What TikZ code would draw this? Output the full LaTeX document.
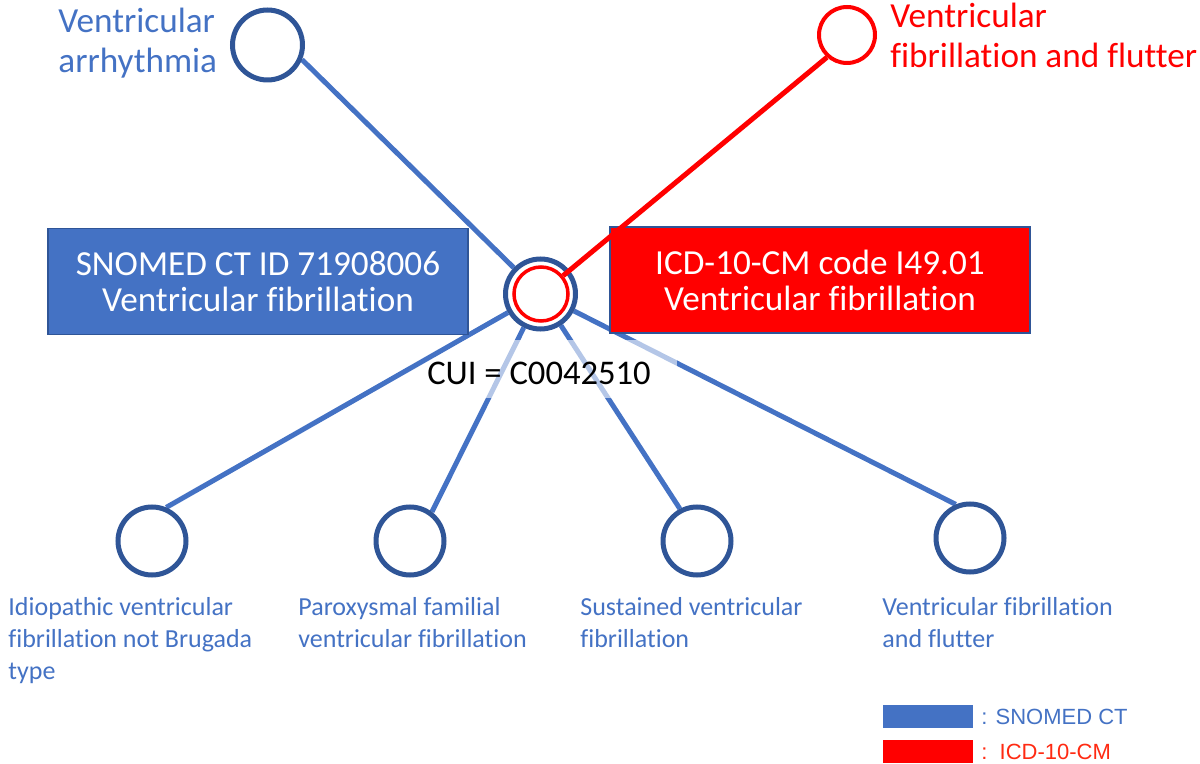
\documentclass[tikz,border=0pt]{standalone}
\usepackage{fontspec}
\setmainfont{Carlito}[Ligatures=NoCommon]
\newfontfamily\arialf{Liberation Sans}
\definecolor{sblue}{HTML}{4472C4}
\definecolor{dblue}{HTML}{2F5597}
\definecolor{ired}{HTML}{FF0000}
\definecolor{lred}{HTML}{FF2A12}
\pgfdeclarelayer{bg}
\pgfsetlayers{bg,main}
\tikzset{
  ring/.style={circle, draw=dblue, line width=2.5pt, fill=white, minimum size=35pt, inner sep=0pt},
  leafring/.style={ring, minimum size=34pt},
  redring/.style={circle, draw=ired, line width=2pt, fill=white, minimum size=28pt, inner sep=0pt},
  sline/.style={draw=sblue, line width=2.5pt},
  rline/.style={draw=ired, line width=2.5pt},
  codebox/.style={draw=dblue, line width=0.75pt, minimum width=210pt, minimum height=53pt, text=white, align=center, font=\fontsize{17.6}{18}\selectfont, inner sep=0pt},
  toplabel/.style={anchor=north west, inner sep=0pt, align=left, font=\fontsize{17.6}{20}\selectfont},
  leaf/.style={anchor=north west, inner sep=0pt, align=left, text=sblue, font=\fontsize{13}{16}\selectfont},
  legbox/.style={minimum width=45pt, minimum height=11.5pt, inner sep=0pt},
  legtext/.style={anchor=west, inner sep=0pt, font=\arialf\fontsize{11}{13}\selectfont}
}
\begin{document}
\begin{tikzpicture}[x=0.5pt,y=-0.5pt]
\useasboundingbox (0,0) rectangle (1200,764);

% boxes
\node[codebox, fill=sblue] (snomed) at (258,281.5) {SNOMED CT ID 71908006\\Ventricular fibrillation};
\node[codebox, fill=ired] (icd) at (820,280) {ICD-10-CM code I49.01\\Ventricular fibrillation};

% circles
\node[ring] (c) at (540.5,294) {};
\node[redring, minimum size=27pt, line width=1.75pt] (cr) at (541,294) {};
\node[ring] (tl) at (267.5,45) {};
\node[redring] (tr) at (847,35) {};
\node[leafring] (b1) at (152,541) {};
\node[leafring] (b2) at (410,541) {};
\node[leafring] (b3) at (697,541) {};
\node[leafring] (b4) at (970,538) {};

% blue connectors
\begin{pgfonlayer}{bg}
\draw[sline] (c) -- (tl.-23);
\draw[sline] (c) -- (b1.67);
\draw[sline] (c) -- (b2.53);
\draw[sline] (c) -- (b3.118);
\draw[sline] (c) -- (b4.113);
\end{pgfonlayer}

% red connector
\draw[rline] (cr) -- (tr.228);

% veil behind CUI text
\fill[white, fill opacity=0.6] (480,340) rectangle (677,398);
\node[inner sep=0pt, font=\fontsize{17.3}{20}\selectfont] (cui) at (539,373) {CUI = C0042510};

% top labels
\node[toplabel, text=sblue] (lbltl) at (58,8) {Ventricular\\arrhythmia};
\node[toplabel, text=ired] (lbltr) at (890,3) {Ventricular\\fibrillation and flutter};

% leaf labels
\node[leaf] (l1) at (8,597) {Idiopathic ventricular\\fibrillation not Brugada\\type};
\node[leaf] (l2) at (298,597) {Paroxysmal familial\\ventricular fibrillation};
\node[leaf] (l3) at (580,597) {Sustained ventricular\\fibrillation};
\node[leaf] (l4) at (882,597) {Ventricular fibrillation\\and flutter};

% legend
\node[legbox, fill=sblue] (lgs) at (928,716.5) {};
\node[legtext, text=sblue] (lgst) at (981,717) {: SNOMED CT};
\node[legbox, fill=ired] (lgr) at (928,751.5) {};
\node[legtext, text=lred] (lgrt) at (981,752) {:\ \ ICD-10-CM};
\end{tikzpicture}
\end{document}
